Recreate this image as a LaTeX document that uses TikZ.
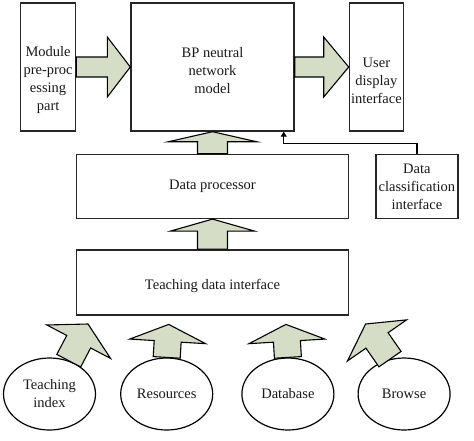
\documentclass[tikz,border=0pt]{standalone}
\usepackage{fontspec}
\setmainfont{Liberation Serif}
\usetikzlibrary{positioning}
\usetikzlibrary{calc}
\usetikzlibrary{shapes.geometric}
\usetikzlibrary{arrows.meta}

\definecolor{sage}{RGB}{213,221,198}
\definecolor{inkgray}{RGB}{25,25,25}

\tikzset{
    box/.style={draw=black!85, line width=1.4pt, fill=white, inner sep=0pt},
    oval/.style={ellipse, draw=black, line width=1.2pt, minimum width=92pt, minimum height=72pt, inner sep=0pt, align=center},
    txt/.style={align=center, text=inkgray, font=\fontsize{14.5}{18}\selectfont},
    fat/.style={draw=black, line width=1.1pt, fill=sage, line join=miter},
}

% #1 from, #2 tip, #3 shaft half width, #4 head half width, #5 head length
\newcommand{\fatarrow}[5]{%
    \coordinate (fa-h) at ($(#2)!#5!(#1)$);
    \draw[fat] ($(#1)!#3!90:(#2)$) -- ($(fa-h)!#3!90:(#2)$) -- ($(fa-h)!#4!90:(#2)$)
        -- (#2) -- ($(fa-h)!#4!-90:(#2)$) -- ($(fa-h)!#3!-90:(#2)$) -- ($(#1)!#3!-90:(#2)$) -- cycle;}

\begin{document}
\begin{tikzpicture}[x=1pt, y=-1pt, every node/.append style={txt}]
    \useasboundingbox (0,0) rectangle (474,440);

    \node[box, minimum width=163pt, minimum height=128pt]       (bp)    at (212.5,67) {};
    \node[box, minimum width=55pt, minimum height=128pt, left=54pt of bp]   (mod)   {};
    \node[box, minimum width=54pt, minimum height=128pt, right=54pt of bp]  (usr)   {};
    \node[box, minimum width=272pt, minimum height=64pt, below=22pt of bp]  (proc)  {Data processor};
    \node[box, minimum width=272pt, minimum height=65pt, below=30pt of proc] (tdi)  {};
    \node[box, minimum width=82pt, minimum height=64pt, right=26pt of proc] (dc)    {Data\\classification\\interface};

    \node at ([yshift=-4pt]bp.center)   {BP neutral\\network\\model};
    \node at ([yshift=-13pt]mod.center) {Module\\pre-proc\\essing\\part};
    \node at ([yshift=-14pt]usr.center) {User\\display\\interface};
    \node at ([yshift=-4pt]tdi.center)  {Teaching data interface};

    \node[oval]                     (ti)    at (49.5,394)   {Teaching\\index};
    \node[oval, right=24pt of ti]   (res)                   {Resources};
    \node[oval, right=28pt of res]  (db)                    {Database};
    \node[oval, right=23pt of db]   (br)                    {Browse};

    % tips of the arrows from the bottom row
    \coordinate (ti-tip)  at ($(ti.center)+(38.5,-70)$);
    \coordinate (res-tip) at ($(res.north)+(2,-33)$);
    \coordinate (db-tip)  at ($(db.north)+(-2,-33)$);
    \coordinate (br-tip)  at ($(br.center)+(-38.5,-70)$);

    \fatarrow{mod.east}{bp.west}{10pt}{30pt}{23pt}
    \fatarrow{bp.east}{usr.west}{10pt}{30pt}{25pt}
    \fatarrow{proc.north}{bp.south}{15pt}{44pt}{10pt}
    \fatarrow{tdi.north}{proc.south}{15pt}{42pt}{12pt}
    \fatarrow{ti.60}{ti-tip}{13.5pt}{36pt}{20pt}
    \fatarrow{res.north}{res-tip}{13.5pt}{38pt}{17pt}
    \fatarrow{db.north}{db-tip}{13.5pt}{38pt}{17pt}
    \fatarrow{br.112}{br-tip}{13.5pt}{36pt}{20pt}

    \coordinate (fb) at ([xshift=-11pt]bp.south east);
    \draw[line width=1.3pt, -{Triangle[length=5pt, width=6pt]}] (dc.north) |- ([yshift=-12pt]fb) -- (fb);
\end{tikzpicture}
\end{document}
